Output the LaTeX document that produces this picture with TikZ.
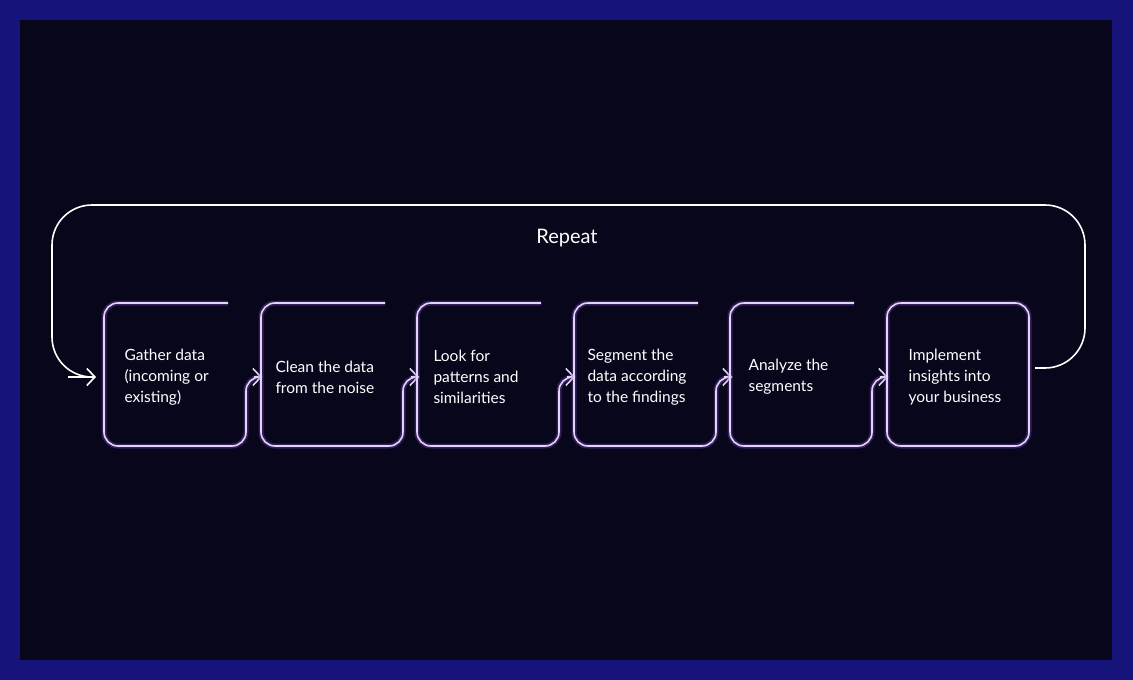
\documentclass[tikz,border=0pt]{standalone}
\usepackage{fontspec}
\setmainfont{Lato}
\usetikzlibrary{arrows.meta}
\definecolor{bgdark}{HTML}{07061A}
\definecolor{frameblue}{HTML}{16147A}
\definecolor{neon}{HTML}{E2D4F6}
\definecolor{glow}{HTML}{8A4FD6}
\tikzset{
    neonline/.style={draw=neon,line width=1.6pt,rounded corners=14pt},
    glowline/.style={draw=glow,line width=5pt,opacity=0.35,rounded corners=14pt},
    steptext/.style={text=white,anchor=west,align=left,font=\fontsize{15.5}{21}\selectfont},
    tip/.style={-{Straight Barb[length=8pt,width=17pt,line width=1.6pt]}}
}
\begin{document}
\begin{tikzpicture}[x=1pt,y=-1pt]
    \useasboundingbox (0,0) rectangle (1133,680);
    \fill[frameblue] (0,0) rectangle (1133,680);
    \fill[bgdark] (20,20) rectangle (1112,660);
    % repeat loop
    \draw[draw=white,line width=1.6pt,rounded corners=40pt] (1035,368) -- (1085,368) -- (1085,205) -- (52,205) -- (52,377) -- (70,377);
    \draw[draw=white,line width=1.6pt,tip] (68,377) -- (96,377);
    \node[text=white,font=\fontsize{20}{24}\selectfont] (repeat) at (567,238) {Repeat};
    % steps
    \foreach \x/\last in {104/0,261/0,417/0,574/0,730/0,887/1}{
        \ifnum\last=0
            \foreach \sty in {glowline,neonline}{
                \draw[\sty] (\x+124,303) -- (\x,303) -- (\x,446) -- (\x+142,446) -- (\x+142,377) -- (\x+158,377);
            }
            \draw[neonline,rounded corners=0pt,tip] (\x+150,377) -- (\x+158,377);
        \else
            \foreach \sty in {glowline,neonline}{
                \draw[\sty] (\x,303) rectangle (\x+142,446);
            }
        \fi
    }
    \node[steptext] (gather) at (121,377) {Gather data\\(incoming or\\existing)};
    \node[steptext] (clean) at (272,377) {Clean the data\\from the noise};
    \node[steptext] (look) at (430,377) {Look for\\patterns and\\similarities};
    \node[steptext] (segment) at (584,377) {Segment the\\data according\\to the findings};
    \node[steptext] (analyze) at (745,377) {Analyze the\\segments};
    \node[steptext] (implement) at (905,377) {Implement\\insights into\\your business};
\end{tikzpicture}
\end{document}
